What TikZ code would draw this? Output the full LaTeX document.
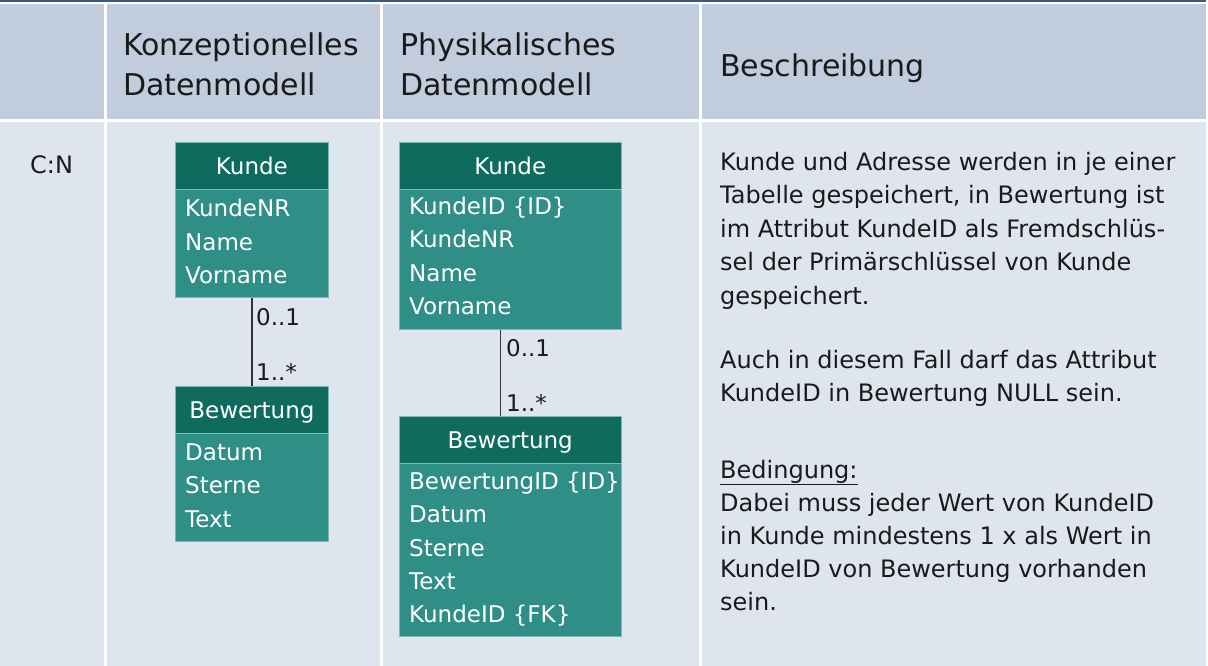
\documentclass[tikz,border=0pt]{standalone}
\usepackage{fontspec}
\setmainfont{DejaVu Sans}
\usetikzlibrary{calc}
\definecolor{topline}{HTML}{3A5A7C}
\definecolor{hdrbg}{HTML}{C1CCDD}
\definecolor{bodybg}{HTML}{DFE5EF}
\definecolor{tealdark}{HTML}{0F6B5D}
\definecolor{teallight}{HTML}{2F8F87}
\definecolor{tealedge}{HTML}{7FBAB2}
\definecolor{txt}{HTML}{1A1A1A}
\newcommand{\myhdrfont}{\fontsize{30}{40}\selectfont}
\newcommand{\mytxtfont}{\fontsize{24}{33.5}\selectfont}
\newcommand{\myumlfont}{\fontsize{23}{33.3}\selectfont}
\tikzset{
  hdrtext/.style={font=\myhdrfont, text=txt, align=left, anchor=base west, inner sep=0pt},
  desctext/.style={font=\mytxtfont, text=txt, align=left, anchor=base west, inner sep=0pt},
  umlhead/.style={fill=tealdark, draw=tealedge, line width=0.8pt, text=white, font=\myumlfont,
    anchor=north west, inner sep=0pt, text height=17pt, text depth=0pt},
  umlbody/.style={fill=teallight, draw=tealedge, line width=0.8pt, anchor=north west, inner sep=0pt},
  attrs/.style={font=\myumlfont, text=white, align=left, anchor=base west, inner sep=0pt},
  mult/.style={font=\myumlfont, text=txt, anchor=base west, inner sep=0pt},
  conn/.style={draw=black!80, line width=1.5pt},
}
\begin{document}
\begin{tikzpicture}[x=1pt,y=-1pt]
\useasboundingbox (0,0) rectangle (1208,666);
\fill[white] (0,0) rectangle (1208,666);
\fill[topline] (0,0) rectangle (1206,2);
% header cells
\fill[hdrbg] (0,4) rectangle (104,119);
\fill[hdrbg] (107,4) rectangle (380,119);
\fill[hdrbg] (383,4) rectangle (699,119);
\fill[hdrbg] (702,4) rectangle (1206,119);
% body cells
\fill[bodybg] (0,122) rectangle (104,666);
\fill[bodybg] (107,122) rectangle (380,666);
\fill[bodybg] (383,122) rectangle (699,666);
\fill[bodybg] (702,122) rectangle (1206,666);
% header texts (anchor = baseline of last line)
\node[hdrtext] (h1) at (123,96) {Konzeptionelles\\Datenmodell};
\node[hdrtext] (h2) at (400,96) {Physikalisches\\Datenmodell};
\node[hdrtext] (h3) at (720,77) {Beschreibung};
% row label
\node[desctext] (cn) at (30,174) {C:N};
% conceptual model
\node[umlhead, minimum width=153pt, minimum height=47.6pt] (ckh) at (175,141.7) {Kunde};
\node[umlbody, minimum width=153pt, minimum height=107.4pt] (ckb) at (175,189.3) {};
\node[attrs] (ckt) at (185,283.3) {KundeNR\\Name\\Vorname};
\node[umlhead, minimum width=153pt, minimum height=47.3pt] (cbh) at (175,386) {Bewertung};
\node[umlbody, minimum width=153pt, minimum height=107.4pt] (cbb) at (175,433.3) {};
\node[attrs] (cbt) at (185,527) {Datum\\Sterne\\Text};
\draw[conn] (ckb.south) -- (cbh.north);
\node[mult] (cm1) at (256,325) {0..1};
\node[mult] (cm2) at (256,380) {1..*};
% physical model
\node[umlhead, minimum width=221.7pt, minimum height=47.3pt] (pkh) at (399,141.7) {Kunde};
\node[umlbody, minimum width=221.7pt, minimum height=140pt] (pkb) at (399,189) {};
\node[attrs] (pkt) at (409,314.3) {KundeID \{ID\}\\KundeNR\\Name\\Vorname};
\node[umlhead, minimum width=221.7pt, minimum height=46.7pt] (pbh) at (399,416) {Bewertung};
\node[umlbody, minimum width=221.7pt, minimum height=173.3pt] (pbb) at (399,462.7) {};
\node[attrs] (pbt) at (409,622.7) {BewertungID \{ID\}\\Datum\\Sterne\\Text\\KundeID \{FK\}};
\draw[conn] ([xshift=101.7pt]pkb.south west) -- ([xshift=101.7pt]pbh.north west);
\node[mult] (pm1) at (506,356.7) {0..1};
\node[mult] (pm2) at (506,411.7) {1..*};
% description
\node[desctext] (d1) at (720,304) {Kunde und Adresse werden in je einer\\Tabelle gespeichert, in Bewertung ist\\im Attribut KundeID als Fremdschlüs-\\sel der Primärschlüssel von Kunde\\gespeichert.};
\node[desctext] (d2) at (720,401.7) {Auch in diesem Fall darf das Attribut\\KundeID in Bewertung NULL sein.};
\node[desctext, font={\fontsize{24}{33}\selectfont}] (d3) at (720,610) {\underline{Bedingung:}\\Dabei muss jeder Wert von KundeID\\in Kunde mindestens 1 x als Wert in\\KundeID von Bewertung vorhanden\\sein.};
\end{tikzpicture}
\end{document}
